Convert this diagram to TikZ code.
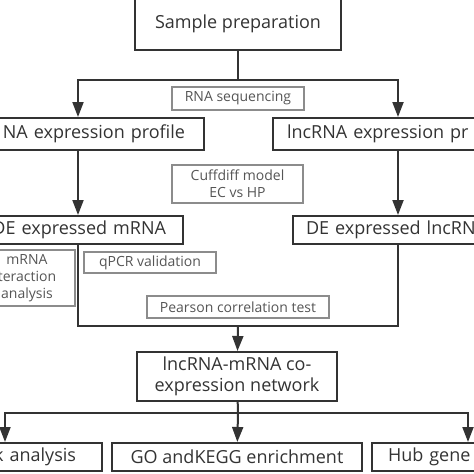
\documentclass[tikz,border=0pt]{standalone}
\usepackage{fontspec}
\setmainfont{Open Sans}
\usetikzlibrary{arrows.meta}
\definecolor{ink}{HTML}{333333}
\definecolor{labink}{HTML}{555555}
\definecolor{labline}{HTML}{8C8C8C}

\begin{document}
\begin{tikzpicture}[x=1pt,y=-1pt,>={Triangle[length=15pt,width=11pt]},
  box/.style={draw=ink,line width=2pt,text=ink,inner sep=0pt,align=center,font=\fontsize{18}{21}\selectfont},
  lab/.style={draw=labline,line width=1.2pt,text=labink,inner sep=0pt,align=center,font=\fontsize{14}{17}\selectfont},
  ln/.style={draw=ink,line width=2pt},
  arr/.style={ln,->}]
  \useasboundingbox (0,0) rectangle (474,474);
  \clip (0,0) rectangle (474,474);
  \node[box,minimum width=206pt,minimum height=52pt] (prep) at (238,24) {Sample preparation};
  \node[lab,minimum width=132pt,minimum height=23pt] (rnaseq) at (238,98.5) {RNA sequencing};
  \node[box,minimum height=32pt,text width=214pt,inner xsep=19pt,align=right] (mprof) at (78,134) {NA expression profile};
  \node[box,minimum height=32pt,text width=222pt,inner xsep=14pt,align=left] (lprof) at (398,134) {lncRNA expression pr};
  \node[lab,minimum width=131pt,minimum height=38pt] (cuff) at (237.5,184) {Cuffdiff model\\EC vs HP};
  \node[box,minimum height=28pt,text width=176pt,inner xsep=17pt,align=right] (demrna) at (78,230) {DE expressed mRNA};
  \node[box,minimum height=28pt,text width=184pt,inner xsep=13pt,align=left] (delnc) at (398,230) {DE expressed lncRN};
  \node[lab,minimum width=96pt,minimum height=56pt] (inter) at (27,278) {mRNA\\teraction\\analysis};
  \node[lab,minimum width=132pt,minimum height=21pt] (qpcr) at (150,262.5) {qPCR validation};
  \node[lab,minimum width=182pt,minimum height=22pt] (pearson) at (238,307) {Pearson correlation test};
  \node[box,minimum width=200pt,minimum height=49pt] (coexp) at (237,376.5) {lncRNA-mRNA co-\\expression network};
  \node[box,minimum height=28pt,text width=142pt,inner xsep=26pt,align=right] (net) at (5,457) {k analysis};
  \node[box,minimum width=250pt,minimum height=28pt] (go) at (237,457) {GO andKEGG enrichment};
  \node[box,minimum height=28pt,text width=160pt,inner xsep=16pt,align=left] (hub) at (468,457) {Hub gene};
  \coordinate (s1) at (238,80);
  \coordinate (s2) at (238,326);
  \coordinate (s3) at (238,413);
  \draw[ln] (prep) -- (s1);
  \draw[arr] (s1) -| (mprof);
  \draw[arr] (s1) -| (lprof);
  \draw[arr] (mprof) -- (demrna);
  \draw[arr] (lprof) -- (delnc);
  \draw[ln] (demrna) |- (s2) -| (delnc);
  \draw[arr] (s2) -- (coexp);
  \draw[ln] (coexp) -- (s3);
  \draw[arr] (s3) -| (net);
  \draw[arr] (s3) -- (go);
  \draw[arr] (s3) -| (hub);
\end{tikzpicture}
\end{document}
